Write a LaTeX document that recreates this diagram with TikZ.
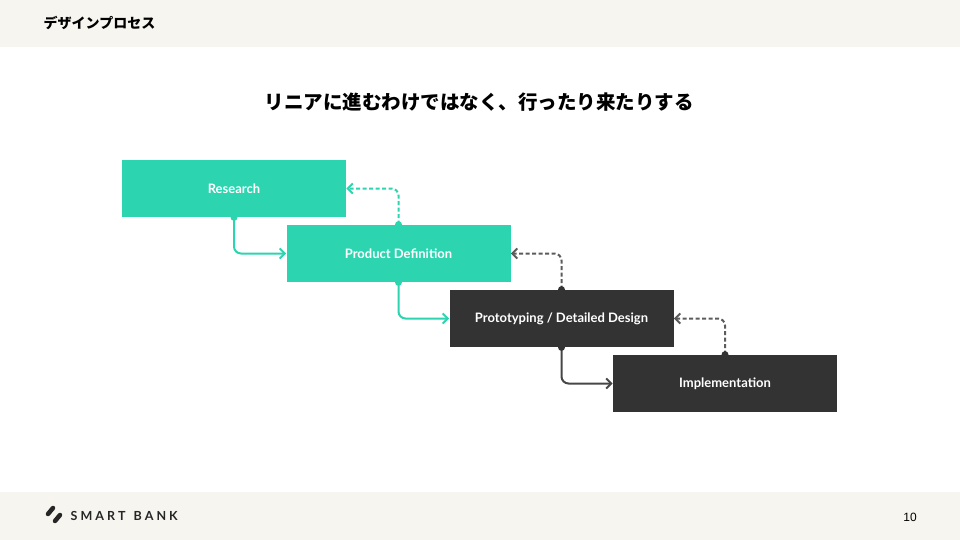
\documentclass[tikz,border=0pt]{standalone}
\usepackage{fontspec}
\setmainfont{Lato}
\setsansfont{Liberation Sans}
\newfontfamily\cjk{Noto Sans CJK JP}
\usetikzlibrary{positioning,arrows.meta}
\definecolor{teal1}{RGB}{45,212,176}
\definecolor{dark1}{RGB}{51,51,51}
\definecolor{band}{RGB}{247,245,240}
\tikzset{every picture/.style={line width=0.75pt}}
\tikzset{
  stage/.style={minimum width=224pt,minimum height=57pt,inner sep=0pt,text=white,font=\fontsize{13}{15}\selectfont\bfseries},
  fwd/.style={draw=#1,line width=2pt,rounded corners=7pt,-{Straight Barb[length=5pt,width=10pt]}},
  back/.style={draw=#1,line width=2pt,dash pattern={on 4pt off 2.5pt},rounded corners=7pt,-{Straight Barb[length=5pt,width=10pt]}},
  dotc/.style={circle,fill=#1,inner sep=0pt,minimum size=7pt}
}
\begin{document}
\begin{tikzpicture}[x=1pt,y=-1pt]
\useasboundingbox (0,0) rectangle (960,540);
\fill[white] (0,0) rectangle (960,540);
% bands
\fill[band] (0,0) rectangle (960,47);
\fill[band] (0,492) rectangle (960,540);
\node[anchor=west,font=\cjk\bfseries\fontsize{14}{16}\selectfont] (head) at (40,23) {デザインプロセス};
\node[font=\cjk\bfseries\fontsize{19.5}{22}\selectfont] (title) at (479,102) {リニアに進むわけではなく、行ったり来たりする};

% stages
\node[stage,fill=teal1] (res) at (234,188.5) {Research};
\node[stage,fill=teal1] (pdef) at (398.5,253.5) {Product Definition};
\node[stage,fill=dark1] (proto) at (561.5,318.5) {Prototyping / Detailed Design};
\node[stage,fill=dark1] (impl) at (725,383.5) {Implementation};

% forward links
\draw[fwd=teal1] (res.south) -- (res.south |- pdef.west) -- (pdef.west);
\draw[fwd=teal1] (pdef.south) -- (pdef.south |- proto.west) -- (proto.west);
\draw[fwd=dark1!90] (proto.south) -- (proto.south |- impl.west) -- (impl.west);
\node[dotc=teal1] at (res.south) {};
\node[dotc=teal1] at (pdef.south) {};
\node[dotc=dark1] at (proto.south) {};

% back links
\draw[back=teal1] (pdef.north) -- (pdef.north |- res.east) -- (res.east);
\draw[back=dark1!80] (proto.north) -- (proto.north |- pdef.east) -- (pdef.east);
\draw[back=dark1!80] (impl.north) -- (impl.north |- proto.east) -- (proto.east);
\node[dotc=teal1] at (pdef.north) {};
\node[dotc=dark1] at (proto.north) {};
\node[dotc=dark1] at (impl.north) {};

% footer
\foreach \d in {0,7}
  \draw[line width=4.5pt,black!85,line cap=round] (48+\d,514+\d) -- (53+\d,508+\d);
\node[anchor=west,font=\fontsize{12.5}{14}\selectfont\bfseries,text=black!85] (logo) at (67,516) {S\hspace{3pt}M\hspace{3pt}A\hspace{3pt}R\hspace{3pt}T\hspace{8pt}B\hspace{3pt}A\hspace{3pt}N\hspace{3pt}K};
\node[font=\fontsize{12}{14}\selectfont\sffamily] (pg) at (910,517) {10};
\end{tikzpicture}
\end{document}
